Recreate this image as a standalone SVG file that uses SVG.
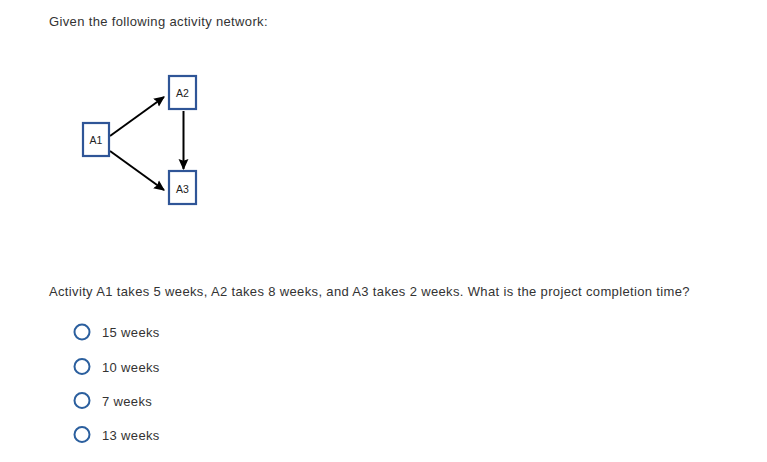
<svg xmlns="http://www.w3.org/2000/svg" width="767" height="462" viewBox="0 0 767 462">
<defs>
<style>
.t{font-family:"Liberation Sans",Arial,sans-serif;font-size:13px;letter-spacing:0.35px;fill:#333}
.box{fill:#fff;stroke:#2f5597;stroke-width:2.2}
.lbl{font-family:"Liberation Sans",Arial,sans-serif;font-size:10.5px;fill:#222;text-anchor:middle}
.edge{stroke:#000;stroke-width:2;fill:none;marker-end:url(#ah)}
.radio{fill:#fff;stroke:#2b5f9e;stroke-width:2}
</style>
<marker id="ah" viewBox="0 0 10 10" refX="9" refY="5" markerWidth="5.5" markerHeight="5.5" orient="auto" markerUnits="strokeWidth">
<path d="M0,0.5 L10,5 L0,9.5 L1.5,5 Z" fill="#000"/>
</marker>
</defs>
<rect width="767" height="462" fill="#fff"/>
<text class="t" x="49" y="26">Given the following activity network:</text>
<g id="connectors">
<line class="edge" x1="110" y1="136" x2="164" y2="97"/>
<line class="edge" x1="110" y1="151" x2="164" y2="190"/>
<line class="edge" x1="183.5" y1="111" x2="183.5" y2="169"/>
</g>
<g id="A1">
<rect class="box" x="83" y="123" width="26" height="33"/>
<text class="lbl" x="96" y="143.5">A1</text>
</g>
<g id="A2">
<rect class="box" x="169" y="76" width="27" height="33"/>
<text class="lbl" x="182.5" y="96.5">A2</text>
</g>
<g id="A3">
<rect class="box" x="169" y="171" width="27" height="33"/>
<text class="lbl" x="182.5" y="192.5">A3</text>
</g>
<text class="t" x="49" y="296">Activity A1 takes 5 weeks, A2 takes 8 weeks, and A3 takes 2 weeks. What is the project completion time?</text>
<g id="opt1"><circle class="radio" cx="82" cy="332" r="7.5"/><text class="t" x="102" y="337">15 weeks</text></g>
<g id="opt2"><circle class="radio" cx="82" cy="366.5" r="7.5"/><text class="t" x="102" y="371.5">10 weeks</text></g>
<g id="opt3"><circle class="radio" cx="82" cy="400.5" r="7.5"/><text class="t" x="102" y="405.5">7 weeks</text></g>
<g id="opt4"><circle class="radio" cx="82" cy="434.5" r="7.5"/><text class="t" x="102" y="439.5">13 weeks</text></g>
</svg>
